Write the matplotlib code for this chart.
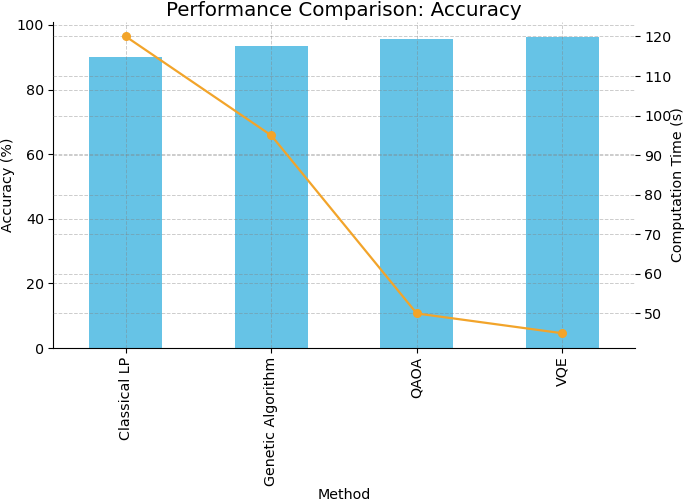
import matplotlib
matplotlib.use("Agg")
import matplotlib.pyplot as plt
import numpy as np

# -----------------------------
# Data
# -----------------------------
methods = ["Classical LP", "Genetic Algorithm", "QAOA", "VQE"]
accuracy = [90.0, 93.5, 95.7, 96.2]
comp_time = [120, 95, 50, 45]

bar_color = "#66c3e6"
line_color = "#f2a42a"


def main() -> None:
    plt.rcParams["font.size"] = 10.3
    plt.rcParams["xtick.major.pad"] = 2.5
    plt.rcParams["ytick.major.pad"] = 3

    fig = plt.figure(figsize=(6.85, 5.03), dpi=100)
    ax = fig.add_axes([0.0774, 0.308, 0.8496, 0.649])

    x = np.arange(len(methods))
    ax.bar(x, accuracy, width=0.5, color=bar_color, zorder=1)
    ax.set_xlim(-0.5, len(methods) - 0.5)
    ax.set_xticks(x)
    ax.set_xticklabels(methods, rotation=90)
    ax.set_ylabel("Accuracy (%)", labelpad=1)
    ax.set_xlabel("Method", labelpad=2)
    ax.set_title("Performance Comparison: Accuracy", fontsize=14.3, pad=4)
    ax.set_axisbelow(False)
    ax.grid(True, linestyle="--", color="gray", alpha=0.4, linewidth=0.7)
    ax.spines["top"].set_visible(False)
    ax.spines["right"].set_visible(False)

    # -----------------------------
    # Computation time on twin axis
    # -----------------------------
    ax2 = ax.twinx()
    ax2.grid(True, linestyle="--", color="gray", alpha=0.4, linewidth=0.7)
    ax2.plot(x, comp_time, color=line_color, marker="o", linewidth=1.6,
             markersize=5.5)
    ax2.set_ylabel("Computation Time (s)", labelpad=0)
    for side in ["top", "right", "left", "bottom"]:
        ax2.spines[side].set_visible(False)

    fig.savefig("out.png", dpi=100)


if __name__ == "__main__":
    main()
